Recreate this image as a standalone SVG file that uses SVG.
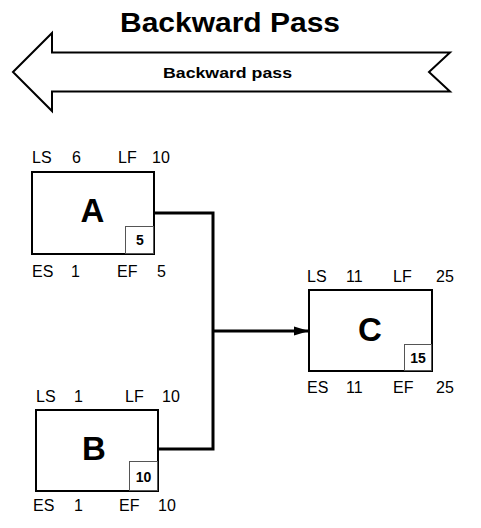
<svg xmlns="http://www.w3.org/2000/svg" width="481" height="528" viewBox="0 0 481 528">
<style>
text{font-family:"Liberation Sans",Arial,sans-serif;fill:#000}
.lbl{font-size:16px}
.big{font-size:33px;font-weight:bold;text-anchor:middle}
.dur{font-size:14px;font-weight:bold;text-anchor:middle}
.box{fill:#fff;stroke:#000;stroke-width:2}
.sm{fill:#fff;stroke:#555;stroke-width:1}
.con{fill:none;stroke:#000;stroke-width:3}
</style>
<defs>
<marker id="ah" markerWidth="16" markerHeight="10" refX="15" refY="5" orient="auto" markerUnits="userSpaceOnUse">
<path d="M0,0.5 L15,5 L0,9.5 Z" fill="#000"/>
</marker>
</defs>
<rect width="481" height="528" fill="#fff"/>
<g id="title">
<text x="120" y="32" font-size="27" font-weight="bold" textLength="220" lengthAdjust="spacingAndGlyphs">Backward Pass</text>
</g>
<g id="banner">
<path d="M13,72 L52,33 L52,52.5 L450,52.5 L429,72 L450,91.5 L52,91.5 L52,111 Z" fill="#fff" stroke="#000" stroke-width="2" stroke-linejoin="miter"/>
<text x="163" y="78" font-size="15" font-weight="bold" textLength="129" lengthAdjust="spacingAndGlyphs">Backward pass</text>
</g>
<g id="connectors">
<polyline class="con" points="154,213 213,213 213,449 158,449"/>
<line class="con" x1="213" y1="331" x2="309" y2="331" marker-end="url(#ah)"/>
</g>
<g id="nodeA">
<rect class="box" x="32" y="172" width="122" height="82"/>
<rect class="sm" x="125.5" y="226.5" width="28" height="27"/>
<text class="big" x="92.5" y="222">A</text>
<text class="dur" x="140" y="245">5</text>
<text class="lbl" x="32" y="163">LS</text>
<text class="lbl" x="72" y="163">6</text>
<text class="lbl" x="118" y="163">LF</text>
<text class="lbl" x="152" y="163">10</text>
<text class="lbl" x="32" y="277">ES</text>
<text class="lbl" x="71" y="277">1</text>
<text class="lbl" x="117" y="277">EF</text>
<text class="lbl" x="157" y="277">5</text>
</g>
<g id="nodeC">
<rect class="box" x="309" y="290" width="123" height="81"/>
<rect class="sm" x="404.5" y="344.5" width="27" height="26"/>
<text class="big" x="370" y="341">C</text>
<text class="dur" x="418" y="363">15</text>
<text class="lbl" x="307" y="282">LS</text>
<text class="lbl" x="346" y="282">11</text>
<text class="lbl" x="393" y="282">LF</text>
<text class="lbl" x="436" y="282">25</text>
<text class="lbl" x="307" y="393">ES</text>
<text class="lbl" x="346" y="393">11</text>
<text class="lbl" x="393" y="393">EF</text>
<text class="lbl" x="436" y="393">25</text>
</g>
<g id="nodeB">
<rect class="box" x="36" y="410" width="122" height="81"/>
<rect class="sm" x="129.5" y="461.5" width="28" height="29"/>
<text class="big" x="94" y="460">B</text>
<text class="dur" x="143.5" y="482">10</text>
<text class="lbl" x="36" y="402">LS</text>
<text class="lbl" x="74" y="402">1</text>
<text class="lbl" x="125" y="402">LF</text>
<text class="lbl" x="162" y="402">10</text>
<text class="lbl" x="33" y="511">ES</text>
<text class="lbl" x="74" y="511">1</text>
<text class="lbl" x="119" y="511">EF</text>
<text class="lbl" x="158" y="511">10</text>
</g>
</svg>
